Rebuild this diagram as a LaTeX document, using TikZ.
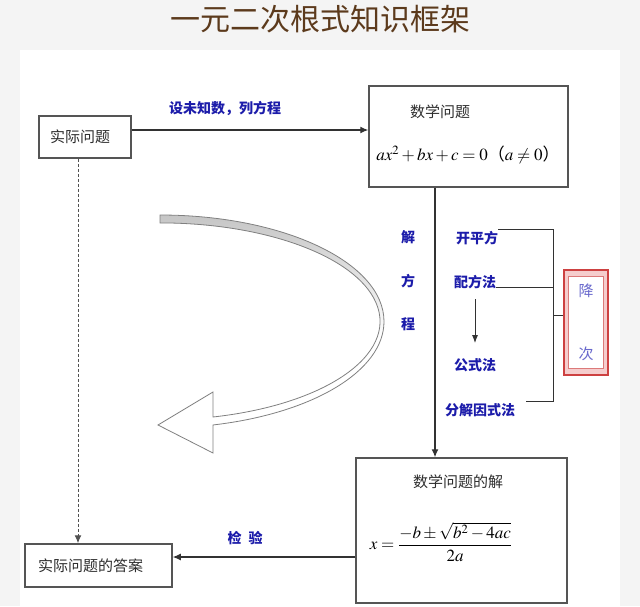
\documentclass[tikz,border=0pt]{standalone}
\usepackage{amsmath}
\usepackage{mathptmx}
\usepackage[no-math]{fontspec}
\setmainfont{Noto Sans CJK SC}
\usetikzlibrary{arrows.meta,positioning}

\definecolor{bggray}{RGB}{244,244,244}
\definecolor{titlebrown}{RGB}{92,58,28}
\definecolor{boxgray}{RGB}{85,85,85}
\definecolor{linegray}{RGB}{50,50,50}
\definecolor{textgray}{RGB}{45,45,45}
\definecolor{labelblue}{RGB}{28,28,170}
\definecolor{jcblue}{RGB}{105,105,205}
\definecolor{jcred}{RGB}{205,65,65}
\definecolor{jcpink}{RGB}{245,205,205}

\begin{document}
\begin{tikzpicture}
[x=1pt, y=-1pt,
% STYLES
% The box style is used for the steps of the flow chart
box/.style={rectangle, draw=boxgray, line width=1.5pt, fill=white, inner sep=0pt, text=textgray, font=\fontsize{15}{18}\selectfont},
boxtext/.style={inner sep=0pt, text=textgray, font=\fontsize{15}{18}\selectfont},
formula/.style={inner sep=0pt, text=black, font=\fontsize{17}{20}\selectfont},
% The bluelabel style is used for the names of the steps and methods
bluelabel/.style={inner sep=0pt, text=labelblue, font=\bfseries\fontsize{14}{17}\selectfont},
% connectors
flow/.style={draw=linegray, line width=1.2pt, -{Latex[length=8pt,width=7pt]}},
thinflow/.style={draw=linegray, line width=1pt, -{Latex[length=8pt,width=6pt]}},
bracketline/.style={draw=linegray, line width=1pt},
outerred/.style={rectangle, draw=jcred, line width=2pt, fill=jcpink},
innerred/.style={rectangle, draw=jcred!70, line width=0.8pt, fill=white},
bigarrow/.style={draw=gray, line width=0.8pt}]

% Background and panel
\useasboundingbox (0,0) rectangle (640,606);
\fill[bggray] (0,0) rectangle (640,606);
\fill[white] (20,50) rectangle (620,606);

% Title
\node[text=titlebrown, font=\fontsize{30}{36}\selectfont] (title) at (320,19) {一元二次根式知识框架};

% Draw steps
\node[box, text width=70pt, inner xsep=11pt, minimum height=42pt, align=left] (problem) at (85,137) {实际问题};
\node[box, minimum width=199pt, minimum height=101pt] (mathproblem) at (468.5,136.5) {};
\node[boxtext] (mathtitle) at (440,112) {数学问题};
\node[formula] (equation) at (468,155) {$ax^2+bx+c=0$（$a\neq0$）};
\node[box, minimum width=211pt, minimum height=145pt] (solution) at (461.5,530.5) {};
\node[boxtext] (soltitle) at (458,482) {数学问题的解};
\node[formula] (roots) at (441,542) {$x=\dfrac{-b\pm\sqrt{b^2-4ac}}{2a}$};
\node[box, text width=121pt, inner xsep=13pt, minimum height=43pt, align=left] (answer) at (98.5,565.5) {实际问题的答案};

% Labels of the steps
\node[bluelabel] (setup) at (225,108) {设未知数，列方程};
\node[bluelabel] (check) at (245,538) {检\hspace{7pt}验};
\node[bluelabel, align=center, font=\bfseries\fontsize{14}{43.5}\selectfont] (solve) at (408,281) {解\\方\\程};

% Methods
\node[bluelabel] (kaiping) at (477,238) {开平方};
\node[bluelabel] (peifang) at (475,282) {配方法};
\node[bluelabel] (gongshi) at (475,365) {公式法};
\node[bluelabel] (fenjie) at (480,410) {分解因式法};

% JIANGCI
\node[outerred, minimum width=44pt, minimum height=105pt] (jiangci) at (586,322.5) {};
\node[innerred, minimum width=35pt, minimum height=92pt, align=center, text=jcblue, font=\fontsize{15}{63}\selectfont] (jiangciinner) at (jiangci) {降\\次};
\coordinate (bracket) at (553,315);

% Big curved arrow
\fill[white] (160,215) arc[start angle=-90, end angle=76.3, x radius=224, y radius=106.5] -- (213,453) -- (158,425) -- (213,392) -- (213,417) arc[start angle=76.06, end angle=-90, x radius=220, y radius=98.5] -- cycle;
\shade[top color=gray!45, bottom color=white] (160,215) arc[start angle=-90, end angle=10, x radius=224, y radius=106.5] -- (376.7,338.6) arc[start angle=10, end angle=-90, x radius=220, y radius=98.5] -- cycle;
\draw[bigarrow] (160,215) arc[start angle=-90, end angle=76.3, x radius=224, y radius=106.5] -- (213,453) -- (158,425) -- (213,392) -- (213,417) arc[start angle=76.06, end angle=-90, x radius=220, y radius=98.5] -- cycle;

% Draw the links between steps
\draw[flow] ([yshift=7pt]problem.east) -- ([yshift=7pt]problem.east -| mathproblem.west);
\draw[flow] ([xshift=-33.5pt]mathproblem.south) -- ([xshift=-33.5pt]mathproblem.south |- solution.north);
\draw[flow] ([yshift=8.5pt]answer.east -| solution.west) -- ([yshift=8.5pt]answer.east);
\draw[flow, draw=linegray!85, line width=1pt, dash pattern=on 3pt off 2pt] ([xshift=-7pt]problem.south) -- ([xshift=-7pt]problem.south |- answer.north);
\draw[thinflow] ([yshift=-10pt]peifang.south) -- ([yshift=15pt]gongshi.north);

% Bracket of the methods
\draw[bracketline] ([yshift=9pt]kaiping.east) -- ([yshift=9pt]kaiping.east -| bracket) -- ([yshift=9pt]fenjie.east -| bracket) -- ([shift={(11pt,9pt)}]fenjie.east);
\draw[bracketline] ([yshift=-5pt]peifang.east) -- ([yshift=-5pt]peifang.east -| bracket);
\draw[bracketline] (bracket) -- (bracket -| jiangci.west);

\end{tikzpicture}
\end{document}
